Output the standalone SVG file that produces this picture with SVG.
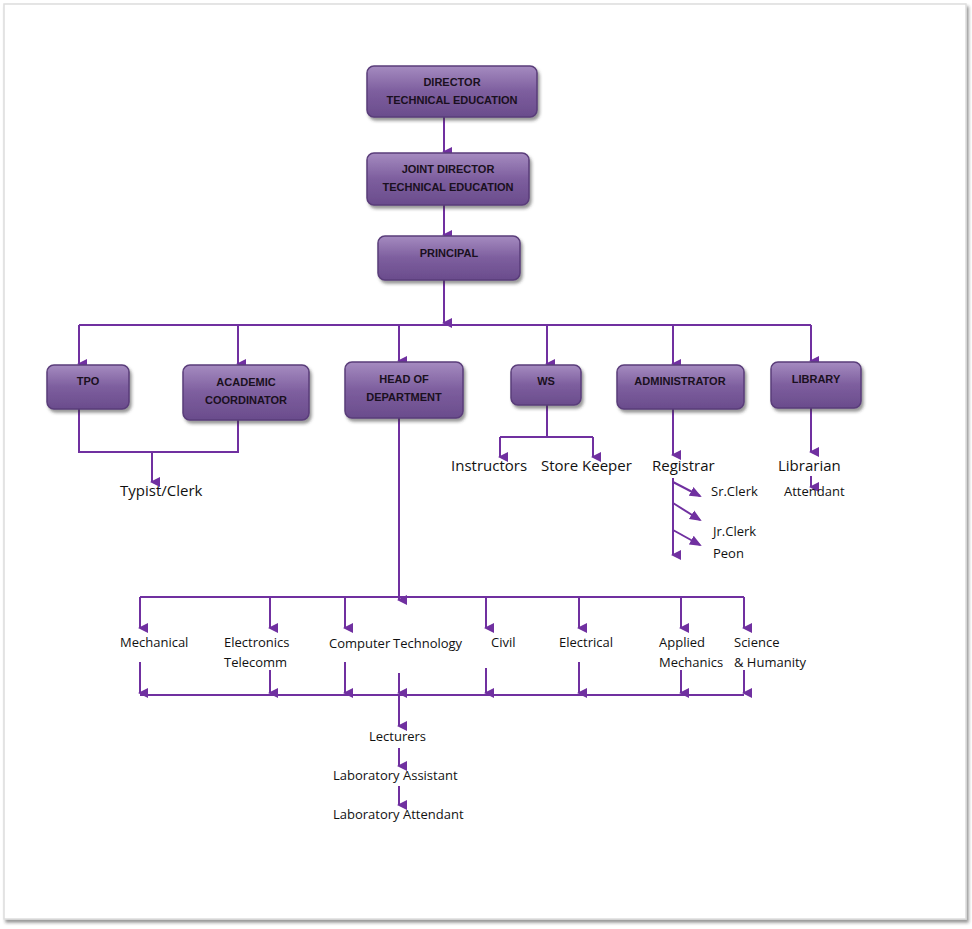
<svg xmlns="http://www.w3.org/2000/svg" width="972" height="929" viewBox="0 0 972 929">
<defs>
<linearGradient id="g" x1="0" y1="0" x2="0" y2="1"><stop offset="0" stop-color="#a58bc0"/><stop offset="0.5" stop-color="#7d5e9e"/><stop offset="1" stop-color="#6a4c8c"/></linearGradient>
<marker id="a" markerWidth="10" markerHeight="10" refX="5" refY="8" orient="auto-start-reverse" markerUnits="userSpaceOnUse" viewBox="0 0 10 10"><path d="M0,0 L10,0 L5,10 Z" transform="rotate(0)" fill="#7030a0"/></marker>
<marker id="d" markerWidth="12" markerHeight="12" refX="10" refY="5" orient="auto" markerUnits="userSpaceOnUse" viewBox="0 0 12 10"><path d="M0,0 L12,5 L0,10 Z" fill="#7030a0"/></marker>
<filter id="s" x="-10%" y="-10%" width="130%" height="140%"><feDropShadow dx="2" dy="3" stdDeviation="1.5" flood-color="#333" flood-opacity="0.5"/></filter>
</defs>
<style>
.b{fill:url(#g);stroke:#5a3d7a;stroke-width:1.5;filter:url(#s)}
.bt{font-family:"Liberation Sans",Arial,sans-serif;font-weight:bold;font-size:11px;fill:#1a1020;text-anchor:middle}
.t{font-family:"Open Sans","Liberation Sans",sans-serif;font-size:13px;fill:#111}
.tl{font-family:"Open Sans","Liberation Sans",sans-serif;font-size:15px;fill:#111}
.c line,.c path{stroke:#7030a0;stroke-width:2;fill:none}
</style>
<rect x="4" y="4" width="962" height="915" fill="#fff" stroke="#ddd" stroke-width="1.5" filter="url(#s)"/>
<g class="c">
<line x1="444" y1="117" x2="444" y2="152" marker-end="url(#a)"/>
<line x1="444" y1="205" x2="444" y2="235" marker-end="url(#a)"/>
<line x1="444" y1="280" x2="444" y2="323" marker-end="url(#a)"/>
<line x1="79" y1="325" x2="811" y2="325"/>
<line x1="79" y1="325" x2="79" y2="364" marker-end="url(#a)"/>
<line x1="238" y1="325" x2="238" y2="364" marker-end="url(#a)"/>
<line x1="399" y1="325" x2="399" y2="361" marker-end="url(#a)"/>
<line x1="547" y1="325" x2="547" y2="364" marker-end="url(#a)"/>
<line x1="673" y1="325" x2="673" y2="364" marker-end="url(#a)"/>
<line x1="811" y1="325" x2="811" y2="361" marker-end="url(#a)"/>
<path d="M79,409 V452 H238 V420"/>
<line x1="152" y1="452" x2="152" y2="482" marker-end="url(#a)"/>
<line x1="547" y1="405" x2="547" y2="437"/>
<line x1="500" y1="437" x2="593" y2="437"/>
<line x1="500" y1="437" x2="500" y2="457" marker-end="url(#a)"/>
<line x1="593" y1="437" x2="593" y2="457" marker-end="url(#a)"/>
<line x1="673" y1="409" x2="673" y2="455" marker-end="url(#a)"/>
<line x1="673" y1="478" x2="673" y2="555" marker-end="url(#a)"/>
<line x1="673" y1="482" x2="700" y2="496" marker-end="url(#d)"/>
<line x1="673" y1="503" x2="700" y2="520" marker-end="url(#d)"/>
<line x1="673" y1="530" x2="700" y2="545" marker-end="url(#d)"/>
<line x1="811" y1="408" x2="811" y2="452" marker-end="url(#a)"/>
<line x1="811" y1="476" x2="811" y2="487" marker-end="url(#a)"/>
<line x1="399" y1="418" x2="399" y2="600" marker-end="url(#a)"/>
<line x1="140" y1="597" x2="744" y2="597"/>
<line x1="140" y1="597" x2="140" y2="628" marker-end="url(#a)"/>
<line x1="270" y1="597" x2="270" y2="628" marker-end="url(#a)"/>
<line x1="345" y1="597" x2="345" y2="628" marker-end="url(#a)"/>
<line x1="486" y1="597" x2="486" y2="628" marker-end="url(#a)"/>
<line x1="579" y1="597" x2="579" y2="628" marker-end="url(#a)"/>
<line x1="681" y1="597" x2="681" y2="628" marker-end="url(#a)"/>
<line x1="744" y1="597" x2="744" y2="628" marker-end="url(#a)"/>
<line x1="140" y1="662" x2="140" y2="693" marker-end="url(#a)"/>
<line x1="270" y1="670" x2="270" y2="693" marker-end="url(#a)"/>
<line x1="345" y1="662" x2="345" y2="693" marker-end="url(#a)"/>
<line x1="399" y1="673" x2="399" y2="693" marker-end="url(#a)"/>
<line x1="486" y1="668" x2="486" y2="693" marker-end="url(#a)"/>
<line x1="579" y1="662" x2="579" y2="693" marker-end="url(#a)"/>
<line x1="681" y1="670" x2="681" y2="693" marker-end="url(#a)"/>
<line x1="744" y1="670" x2="744" y2="693" marker-end="url(#a)"/>
<line x1="140" y1="695" x2="744" y2="695"/>
<line x1="399" y1="695" x2="399" y2="726" marker-end="url(#a)"/>
<line x1="399" y1="748" x2="399" y2="766" marker-end="url(#a)"/>
<line x1="399" y1="786" x2="399" y2="805" marker-end="url(#a)"/>
</g>
<g id="director"><rect class="b" x="367" y="66" width="170" height="51" rx="7"/><text class="bt" x="452" y="86">DIRECTOR</text><text class="bt" x="452" y="104">TECHNICAL EDUCATION</text></g>
<g id="joint"><rect class="b" x="367" y="153" width="162" height="52" rx="7"/><text class="bt" x="448" y="173">JOINT DIRECTOR</text><text class="bt" x="448" y="191">TECHNICAL EDUCATION</text></g>
<g id="principal"><rect class="b" x="378" y="236" width="142" height="44" rx="7"/><text class="bt" x="449" y="257">PRINCIPAL</text></g>
<g id="tpo"><rect class="b" x="47" y="365" width="82" height="44" rx="7"/><text class="bt" x="88" y="385">TPO</text></g>
<g id="academic"><rect class="b" x="183" y="365" width="126" height="55" rx="7"/><text class="bt" x="246" y="386">ACADEMIC</text><text class="bt" x="246" y="404">COORDINATOR</text></g>
<g id="hod"><rect class="b" x="345" y="362" width="118" height="56" rx="7"/><text class="bt" x="404" y="383">HEAD OF</text><text class="bt" x="404" y="401">DEPARTMENT</text></g>
<g id="ws"><rect class="b" x="511" y="365" width="70" height="40" rx="7"/><text class="bt" x="546" y="385">WS</text></g>
<g id="admin"><rect class="b" x="617" y="365" width="127" height="44" rx="7"/><text class="bt" x="680" y="385">ADMINISTRATOR</text></g>
<g id="library"><rect class="b" x="771" y="362" width="90" height="46" rx="7"/><text class="bt" x="816" y="383">LIBRARY</text></g>
<g id="labels">
<text class="tl" x="120" y="496">Typist/Clerk</text>
<text class="tl" x="451" y="471">Instructors</text>
<text class="tl" x="541" y="471">Store Keeper</text>
<text class="tl" x="652" y="471">Registrar</text>
<text class="tl" x="778" y="471">Librarian</text>
<text class="t" x="784" y="496">Attendant</text>
<text class="t" x="711" y="496">Sr.Clerk</text>
<text class="t" x="713" y="536">Jr.Clerk</text>
<text class="t" x="713" y="558">Peon</text>
<text class="t" x="120" y="647">Mechanical</text>
<text class="t" x="224" y="647">Electronics</text>
<text class="t" x="224" y="667">Telecomm</text>
<text class="t" x="329" y="648">Computer</text>
<text class="t" x="393" y="648">Technology</text>
<text class="t" x="491" y="647">Civil</text>
<text class="t" x="559" y="647">Electrical</text>
<text class="t" x="659" y="647">Applied</text>
<text class="t" x="659" y="667">Mechanics</text>
<text class="t" x="734" y="647">Science</text>
<text class="t" x="734" y="667">&amp; Humanity</text>
<text class="t" x="369" y="741">Lecturers</text>
<text class="t" x="333" y="780">Laboratory Assistant</text>
<text class="t" x="333" y="819">Laboratory Attendant</text>
</g>
</svg>
